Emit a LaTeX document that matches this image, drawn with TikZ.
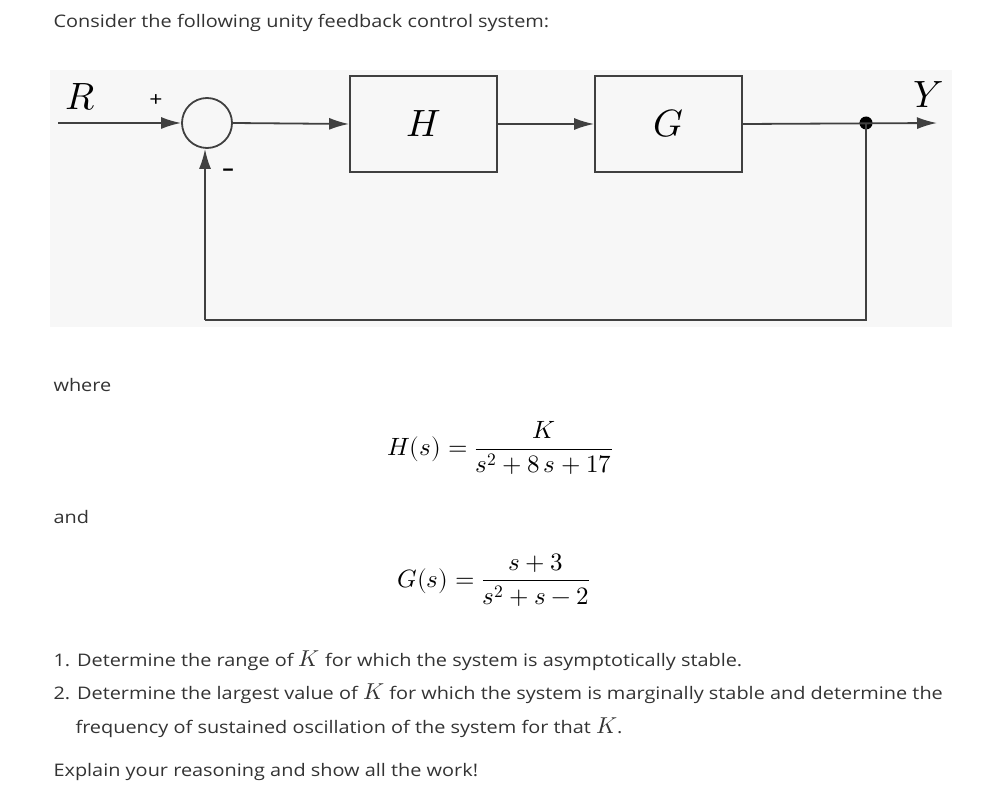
\documentclass[tikz,border=0pt]{standalone}
\usepackage{fontspec}
\setmainfont{Open Sans}[FakeStretch=1.15]
\usepackage{unicode-math}
\setmathfont{Latin Modern Math}
\usetikzlibrary{arrows.meta}
\definecolor{txt}{HTML}{333333}
\begin{document}
\begin{tikzpicture}[x=1pt,y=-1pt,
  blk/.style={draw=black!75,line width=1.8pt,minimum width=147pt,minimum height=96pt,font=\fontsize{38}{38}\selectfont},
  sig/.style={line width=1.8pt,draw=black!75,-{Latex[length=20pt,width=12pt]}},
  ln/.style={line width=1.8pt,draw=black!75},
  body/.style={anchor=base west,text=txt,font=\fontsize{17.3}{20}\selectfont},
  eq/.style={font=\fontsize{25}{28}\selectfont}]
\useasboundingbox (0,0) rectangle (984,794);
\fill[black!3] (50,70) rectangle (952,327);
\node[body] (t1) at (50,28) {Consider the following unity feedback control system:};
\node[font=\fontsize{38}{38}\selectfont] (R) at (80,97) {$R$};
\node[font=\fontsize{20}{20}\selectfont] (plus) at (156,101) {+};
\node[font=\fontsize{20}{20}\bfseries\selectfont] (minus) at (228,172) {--};
\node[draw=black!75,line width=1.8pt,circle,minimum size=50pt,inner sep=0] (sum) at (207,123) {};
\node[blk] (H) at (423.5,124) {$H$};
\node[blk] (G) at (668.5,124) {$G$};
\node[font=\fontsize{38}{38}\selectfont] (Y) at (928,95) {$Y$};
\coordinate (in) at (58,123);
\coordinate (out) at (937,123);
\coordinate (br) at (866,123);
\coordinate (c1) at (866,320);
\coordinate (c2) at (205,320);
\fill[black] (br) circle (6.5pt);
\draw[sig] (in) -- (sum.west);
\draw[sig] (sum.east) -- (H.west);
\draw[sig] (H.east) -- (G.west);
\draw[sig] (G.east) -- (out);
\draw[ln] (br) -- (c1) -- (c2);
\draw[sig] (c2) -- (sum.south -| c2);
\node[body] (where) at (50,391) {where};
\node[eq] (Heq) at (500,448) {$H(s)=\dfrac{K}{s^2+8\,s+17}$};
\node[body] (and) at (50,523) {and};
\node[eq] (Geq) at (494,580) {$G(s)=\dfrac{s+3}{s^2+s-2}$};
\newcommand{\KK}{{\fontsize{23}{20}\selectfont$K$}}
\node[body] (l1) at (50,666) {1. Determine the range of \KK{} for which the system is asymptotically stable.};
\node[body] (l2) at (50,699) {2. Determine the largest value of \KK{} for which the system is marginally stable and determine the};
\node[body] (l3) at (72,733) {frequency of sustained oscillation of the system for that \KK.};
\node[body] (l4) at (50,776) {Explain your reasoning and show all the work!};
\end{tikzpicture}
\end{document}
